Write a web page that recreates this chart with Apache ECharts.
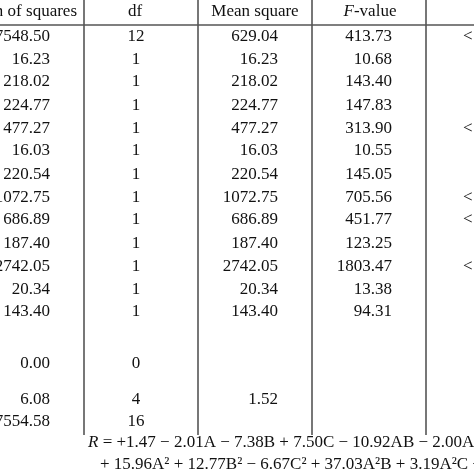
<!DOCTYPE html><html><head><meta charset="utf-8">
<script src="https://cdn.jsdelivr.net/npm/echarts@6/dist/echarts.min.js"></script>
<style>html,body{margin:0;background:#fff}#c{width:474px;height:474px}</style></head><body><div id="c"></div>
<script>
const headers = ['n of squares','df','Mean square','F-value',''];
const sumSq = ['7548.50','16.23','218.02','224.77','477.27','16.03','220.54','1072.75','686.89','187.40','2742.05','20.34','143.40','0.00','6.08','7554.58'];
const df = ['12','1','1','1','1','1','1','1','1','1','1','1','1','0','4','16'];
const meanSq = ['629.04','16.23','218.02','224.77','477.27','16.03','220.54','1072.75','686.89','187.40','2742.05','20.34','143.40','','1.52',''];
const fVal = ['413.73','10.68','143.40','147.83','313.90','10.55','145.05','705.56','451.77','123.25','1803.47','13.38','94.31','','',''];
const pMark = ['<','','','','<','','','<','<','','<','','','','',''];
const eqLines = ['R = +1.47 − 2.01A − 7.38B + 7.50C − 10.92AB − 2.00AC − 4.77BC','+ 15.96A² + 12.77B² − 6.67C² + 37.03A²B + 3.19A²C − 8.52AB²'];

const rowY = [37,60,82,106,129,151,175,198,220,244,267,290,312,364,400,422];
const F = '"Liberation Serif", "DejaVu Serif", serif';
const font = '17px ' + F;
const els = [];
function t(x,y,s,align,extra){els.push({type:'text',x:x,y:y,style:Object.assign({text:s,font:font,fill:'#111',textAlign:align,textVerticalAlign:'middle'},extra||{})});}
t(77,12,headers[0],'right');
t(135,12,headers[1],'center');
t(255,12,headers[2],'center');
els.push({type:'text',x:370,y:12,style:{text:'{i|F}-value',textAlign:'center',textVerticalAlign:'middle',font:font,fill:'#111',rich:{i:{font:'italic 17px '+F}}}});
rowY.forEach((y,i)=>{
  t(50,y,sumSq[i],'right');
  t(136,y,df[i],'center');
  t(278,y,meanSq[i],'right');
  t(392,y,fVal[i],'right');
  t(463,y,pMark[i],'left');
});
els.push({type:'text',x:88,y:443,style:{text:'{i|R}'+eqLines[0].slice(1),font:font,fill:'#111',textVerticalAlign:'middle',rich:{i:{font:'italic 17px '+F}}}});
t(100,465,eqLines[1],'left');
[84,198,312,426].forEach(x=>els.push({type:'line',shape:{x1:x,y1:0,x2:x,y2:435},style:{stroke:'#777',lineWidth:2}}));
els.push({type:'line',shape:{x1:0,y1:25,x2:474,y2:25},style:{stroke:'#555',lineWidth:1.5}});
const chart = echarts.init(document.getElementById('c'));
chart.setOption({animation:false,graphic:{elements:els}});
</script></body></html>
